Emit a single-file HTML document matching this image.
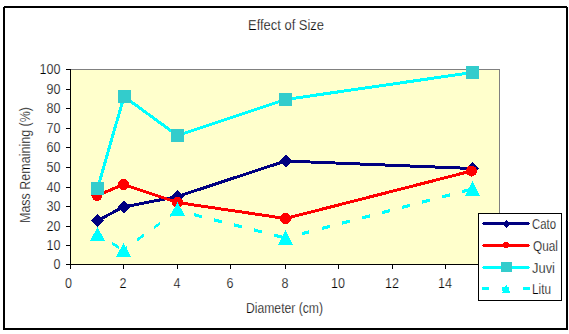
<!DOCTYPE html>
<html><head><meta charset="utf-8"><style>
html,body{margin:0;padding:0;background:#fff;width:569px;height:334px;overflow:hidden}
svg{display:block}
text{stroke:#fff;stroke-width:0.25px;paint-order:fill stroke}
</style></head><body><svg width="569" height="334" viewBox="0 0 569 334" font-family='"Liberation Sans", sans-serif' fill="#000"><rect x="0" y="0" width="569" height="334" fill="#fff"/><path d="M3 6h565v324h-565z M5 8v320h561v-320z" fill="#000" fill-rule="evenodd"/><rect x="3" y="6" width="1" height="1" fill="#fff"/><rect x="567" y="6" width="1" height="1" fill="#fff"/><rect x="71" y="70" width="428" height="194" fill="#FFFFCC"/><rect x="71" y="69" width="429" height="1" fill="#808080"/><rect x="499" y="69" width="1" height="195" fill="#808080"/><rect x="70" y="69" width="1" height="200" fill="#000"/><rect x="66" y="264" width="434" height="1" fill="#000"/><rect x="66" y="69" width="4" height="1" fill="#000"/><rect x="66" y="89" width="4" height="1" fill="#000"/><rect x="66" y="108" width="4" height="1" fill="#000"/><rect x="66" y="128" width="4" height="1" fill="#000"/><rect x="66" y="147" width="4" height="1" fill="#000"/><rect x="66" y="167" width="4" height="1" fill="#000"/><rect x="66" y="187" width="4" height="1" fill="#000"/><rect x="66" y="206" width="4" height="1" fill="#000"/><rect x="66" y="226" width="4" height="1" fill="#000"/><rect x="66" y="245" width="4" height="1" fill="#000"/><rect x="66" y="264" width="4" height="1" fill="#000"/><rect x="70" y="265" width="1" height="4" fill="#000"/><rect x="123" y="265" width="1" height="4" fill="#000"/><rect x="177" y="265" width="1" height="4" fill="#000"/><rect x="230" y="265" width="1" height="4" fill="#000"/><rect x="285" y="265" width="1" height="4" fill="#000"/><rect x="338" y="265" width="1" height="4" fill="#000"/><rect x="392" y="265" width="1" height="4" fill="#000"/><rect x="445" y="265" width="1" height="4" fill="#000"/><rect x="499" y="265" width="1" height="4" fill="#000"/><text x="60.5" y="74" font-size="14" text-anchor="end" textLength="21.0" lengthAdjust="spacingAndGlyphs">100</text><text x="60.5" y="94" font-size="14" text-anchor="end" textLength="14.0" lengthAdjust="spacingAndGlyphs">90</text><text x="60.5" y="113" font-size="14" text-anchor="end" textLength="14.0" lengthAdjust="spacingAndGlyphs">80</text><text x="60.5" y="133" font-size="14" text-anchor="end" textLength="14.0" lengthAdjust="spacingAndGlyphs">70</text><text x="60.5" y="152" font-size="14" text-anchor="end" textLength="14.0" lengthAdjust="spacingAndGlyphs">60</text><text x="60.5" y="172" font-size="14" text-anchor="end" textLength="14.0" lengthAdjust="spacingAndGlyphs">50</text><text x="60.5" y="192" font-size="14" text-anchor="end" textLength="14.0" lengthAdjust="spacingAndGlyphs">40</text><text x="60.5" y="211" font-size="14" text-anchor="end" textLength="14.0" lengthAdjust="spacingAndGlyphs">30</text><text x="60.5" y="231" font-size="14" text-anchor="end" textLength="14.0" lengthAdjust="spacingAndGlyphs">20</text><text x="60.5" y="250" font-size="14" text-anchor="end" textLength="14.0" lengthAdjust="spacingAndGlyphs">10</text><text x="60.5" y="269" font-size="14" text-anchor="end" textLength="7.0" lengthAdjust="spacingAndGlyphs">0</text><text x="68.5" y="288" font-size="14" text-anchor="middle" textLength="7.0" lengthAdjust="spacingAndGlyphs">0</text><text x="123.0" y="288" font-size="14" text-anchor="middle" textLength="7.0" lengthAdjust="spacingAndGlyphs">2</text><text x="177.0" y="288" font-size="14" text-anchor="middle" textLength="7.0" lengthAdjust="spacingAndGlyphs">4</text><text x="230.0" y="288" font-size="14" text-anchor="middle" textLength="7.0" lengthAdjust="spacingAndGlyphs">6</text><text x="285.0" y="288" font-size="14" text-anchor="middle" textLength="7.0" lengthAdjust="spacingAndGlyphs">8</text><text x="338.0" y="288" font-size="14" text-anchor="middle" textLength="14.0" lengthAdjust="spacingAndGlyphs">10</text><text x="392.0" y="288" font-size="14" text-anchor="middle" textLength="14.0" lengthAdjust="spacingAndGlyphs">12</text><text x="445.0" y="288" font-size="14" text-anchor="middle" textLength="14.0" lengthAdjust="spacingAndGlyphs">14</text><text x="499.0" y="288" font-size="14" text-anchor="middle" textLength="14.0" lengthAdjust="spacingAndGlyphs">16</text><g shape-rendering="crispEdges"><polyline points="97.5,220.5 123.5,207.0 177.5,196.5 285.5,161.0 472.0,168.5" fill="none" stroke="#000080" stroke-width="3" stroke-linejoin="round"/><polygon points="97.5,214.0 104.0,220.5 97.5,227.0 91.0,220.5" fill="#000080"/><polygon points="123.5,200.5 130.0,207.0 123.5,213.5 117.0,207.0" fill="#000080"/><polygon points="177.5,190.0 184.0,196.5 177.5,203.0 171.0,196.5" fill="#000080"/><polygon points="285.5,154.5 292.0,161.0 285.5,167.5 279.0,161.0" fill="#000080"/><polygon points="472.0,162.0 478.5,168.5 472.0,175.0 465.5,168.5" fill="#000080"/><polyline points="97.0,195.5 123.5,184.5 177.5,202.5 285.5,218.5 471.5,171.0" fill="none" stroke="#FF0000" stroke-width="3" stroke-linejoin="round"/><circle cx="97.0" cy="195.5" r="5.5" fill="#FF0000"/><circle cx="123.5" cy="184.5" r="5.5" fill="#FF0000"/><circle cx="177.5" cy="202.5" r="5.5" fill="#FF0000"/><circle cx="285.5" cy="218.5" r="5.5" fill="#FF0000"/><circle cx="471.5" cy="171.0" r="5.5" fill="#FF0000"/><polyline points="97.5,188.5 124.0,96.5 177.5,135.5 285.5,99.5 472.5,72.5" fill="none" stroke="#00FFFF" stroke-width="3" stroke-linejoin="round"/><rect x="91.0" y="182.0" width="13.0" height="13.0" fill="#33CCCC"/><rect x="117.5" y="90.0" width="13.0" height="13.0" fill="#33CCCC"/><rect x="171.0" y="129.0" width="13.0" height="13.0" fill="#33CCCC"/><rect x="279.0" y="93.0" width="13.0" height="13.0" fill="#33CCCC"/><rect x="466.0" y="66.0" width="13.0" height="13.0" fill="#33CCCC"/><polygon points="97.50,233.40 101.05,235.45 101.05,238.65 97.50,236.60" fill="#00FFFF"/><polygon points="111.88,241.70 118.98,245.79 118.98,248.99 111.88,244.90" fill="#00FFFF"/><polygon points="123.50,248.40 126.81,245.98 126.81,249.18 123.50,251.60" fill="#00FFFF"/><polygon points="136.90,238.60 143.52,233.76 143.52,236.96 136.90,241.80" fill="#00FFFF"/><polygon points="153.61,226.38 160.22,221.54 160.22,224.74 153.61,229.58" fill="#00FFFF"/><polygon points="170.31,214.16 176.93,209.32 176.93,212.52 170.31,217.36" fill="#00FFFF"/><polygon points="177.50,208.90 181.47,209.91 181.47,213.11 177.50,212.10" fill="#00FFFF"/><polygon points="193.59,213.00 201.53,215.02 201.53,218.22 193.59,216.20" fill="#00FFFF"/><polygon points="213.65,218.10 221.59,220.13 221.59,223.33 213.65,221.30" fill="#00FFFF"/><polygon points="233.71,223.21 241.65,225.24 241.65,228.44 233.71,226.41" fill="#00FFFF"/><polygon points="253.77,228.32 261.71,230.34 261.71,233.54 253.77,231.52" fill="#00FFFF"/><polygon points="273.83,233.43 281.77,235.45 281.77,238.65 273.83,236.63" fill="#00FFFF"/><polygon points="285.50,236.40 289.47,235.36 289.47,238.56 285.50,239.60" fill="#00FFFF"/><polygon points="301.56,232.19 309.49,230.11 309.49,233.31 301.56,235.39" fill="#00FFFF"/><polygon points="321.58,226.95 329.51,224.87 329.51,228.07 321.58,230.15" fill="#00FFFF"/><polygon points="341.61,221.70 349.54,219.62 349.54,222.82 341.61,224.90" fill="#00FFFF"/><polygon points="361.63,216.45 369.56,214.37 369.56,217.57 361.63,219.65" fill="#00FFFF"/><polygon points="381.65,211.20 389.59,209.13 389.59,212.33 381.65,214.40" fill="#00FFFF"/><polygon points="401.68,205.96 409.61,203.88 409.61,207.08 401.68,209.16" fill="#00FFFF"/><polygon points="421.70,200.71 429.63,198.63 429.63,201.83 421.70,203.91" fill="#00FFFF"/><polygon points="441.73,195.46 449.66,193.39 449.66,196.59 441.73,198.66" fill="#00FFFF"/><polygon points="461.75,190.22 469.68,188.14 469.68,191.34 461.75,193.42" fill="#00FFFF"/><polygon points="97.5,227 105.0,241 90.0,241" fill="#00FFFF"/><polygon points="123.5,243 131.0,257 116.0,257" fill="#00FFFF"/><polygon points="177.5,202 185.0,216 170.0,216" fill="#00FFFF"/><polygon points="285.5,230 293.0,245 278.0,245" fill="#00FFFF"/><polygon points="472.5,181 480.0,196 465.0,196" fill="#00FFFF"/></g><rect x="478.5" y="213.5" width="83" height="87" fill="#fff" stroke="#000" stroke-width="1"/><g shape-rendering="crispEdges"><rect x="483" y="222" width="46" height="3" fill="#000080"/><rect x="482" y="223" width="1" height="1" fill="#000080"/><rect x="529" y="223" width="1" height="1" fill="#000080"/><rect x="506" y="220" width="1" height="1" fill="#000080"/><rect x="505" y="221" width="3" height="1" fill="#000080"/><rect x="504" y="222" width="5" height="4" fill="#000080"/><rect x="505" y="226" width="3" height="1" fill="#000080"/><rect x="506" y="227" width="1" height="1" fill="#000080"/><rect x="483" y="244" width="46" height="3" fill="#FF0000"/><rect x="482" y="245" width="1" height="1" fill="#FF0000"/><rect x="529" y="245" width="1" height="1" fill="#FF0000"/><rect x="504" y="242" width="4" height="1" fill="#FF0000"/><rect x="503" y="243" width="6" height="4" fill="#FF0000"/><rect x="504" y="247" width="4" height="1" fill="#FF0000"/><rect x="483" y="266" width="46" height="3" fill="#00FFFF"/><rect x="482" y="267" width="1" height="1" fill="#00FFFF"/><rect x="529" y="267" width="1" height="1" fill="#00FFFF"/><rect x="501" y="262" width="11" height="10" fill="#33CCCC"/><rect x="482" y="287" width="7" height="3" fill="#00FFFF"/><rect x="523" y="287" width="7" height="3" fill="#00FFFF"/><rect x="506" y="285" width="1" height="1" fill="#00FFFF"/><rect x="505" y="286" width="2" height="1" fill="#00FFFF"/><rect x="502" y="287" width="7" height="4" fill="#00FFFF"/><rect x="503" y="291" width="7" height="1" fill="#00FFFF"/><rect x="502" y="292" width="8" height="1" fill="#00FFFF"/></g><text x="532" y="229" font-size="14" text-anchor="start" textLength="24" lengthAdjust="spacingAndGlyphs">Cato</text><text x="533" y="251" font-size="14" text-anchor="start" textLength="25" lengthAdjust="spacingAndGlyphs">Qual</text><text x="532" y="273" font-size="14" text-anchor="start" textLength="23" lengthAdjust="spacingAndGlyphs">Juvi</text><text x="532" y="294" font-size="14" text-anchor="start" textLength="19" lengthAdjust="spacingAndGlyphs">Litu</text><text x="248" y="30" font-size="14" text-anchor="start" textLength="76" lengthAdjust="spacingAndGlyphs">Effect of Size</text><text x="246" y="313" font-size="14" text-anchor="start" textLength="77" lengthAdjust="spacingAndGlyphs">Diameter (cm)</text><text x="0" y="0" font-size="14" textLength="116" lengthAdjust="spacingAndGlyphs" transform="translate(30 223) rotate(-90)">Mass Remaining (%)</text></svg></body></html>
